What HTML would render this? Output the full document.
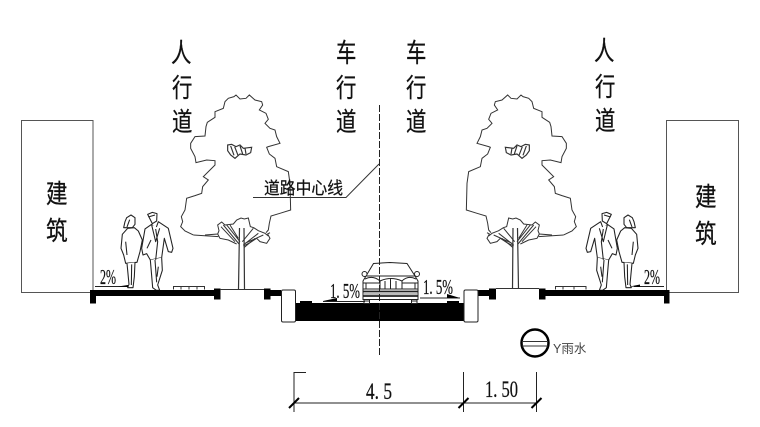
<!DOCTYPE html>
<html lang="zh">
<head>
<meta charset="utf-8">
<style>
html,body{margin:0;padding:0;background:#fff}
svg{display:block}
.cjk{font-family:"Liberation Serif","Noto Sans CJK SC",sans-serif;fill:#111;stroke:#111;stroke-width:.25}
.num{font-family:"Liberation Serif",serif;fill:#111;stroke:#111;stroke-width:.25}
</style>
</head>
<body>
<svg xmlns="http://www.w3.org/2000/svg" width="760" height="427" viewBox="0 0 760 427">
<rect width="760" height="427" fill="#fff"/>
<defs>
<g id="tree" fill="none" stroke="#333">
<g transform="translate(160 30) scale(.3333)" stroke-width="3">
<path fill="#fff" d="M100 615 L75 603 L62 590 L68 575 L64 560 L75 540 L80 505 L105 497 L125 490 L128 470 L145 450 L130 440 L150 420 L165 405 L165 392 L140 390 L108 398 L105 380 L92 355 L92 340 L105 320 L135 318 L138 290 L142 277 L165 262 L165 245 L190 235 L195 215 L205 205 L222 200 L228 195 L240 207 L258 205 L268 195 L285 210 L305 215 L308 225 L298 240 L318 250 L325 268 L315 280 L330 295 L345 300 L350 320 L360 340 L325 350 L320 352 L328 372 L345 385 L350 410 L385 425 L390 460 L392 540 L360 550 L333 558 L328 580 L325 600 L318 608"/>
<path d="M100 615 L175 620"/>
<path stroke-width="3.500" d="M203 345 L215 343 L228 350 L240 345 L250 355 L275 352 L272 368 L258 375 L240 372 L225 385 L212 375 L203 362 Z M212 348 L222 376 M224 350 L234 376 M240 348 L248 372 M255 354 L258 372"/>
</g>
<path stroke-width="1.200" d="M238.500 289 L239.500 228 M244.500 289 L244 228"/>
<g transform="translate(205 210) scale(.3333)" stroke-width="3">
<path d="M0 75 L38 72 L42 62 L38 45 L50 36 L60 45 L85 42 L95 30 L108 24 L118 27 L130 24 L136 50 L146 53 L160 62 L180 70 L190 78"/>
<path d="M38 72 L45 85 L70 90 L95 102 M115 108 L135 98 L155 85 L165 95 L185 100 L195 85 L188 72 L195 68"/>
<path d="M55 45 L102 102 M65 45 L105 95 M75 45 L100 85 M48 50 L90 95"/>
<path d="M112 95 L145 55 M115 105 L160 70 M120 100 L175 75 M118 112 L150 85"/>
</g>
</g>
<g id="people" fill="#fff" stroke="#222" stroke-width="3.200" stroke-linejoin="round">
<g transform="translate(115 205) scale(.3333)">
<path d="M26 68 L30 50 L35 38 L48 30 L60 38 L60 58 L52 68 L40 68 Z"/>
<path d="M44 44 L36 66"/>
<path d="M38 70 L22 88 L18 130 L26 150 L32 175 L66 172 L75 140 L82 105 L70 78 L58 68 Z"/>
<path d="M36 175 L42 238 L38 248 L54 248 L58 215 L60 172"/>
<path d="M32 110 L36 150 M50 178 L49 240"/>
<path d="M98 28 L112 22 L126 26 L125 48 L112 56 L105 42 Z"/>
<path d="M100 36 L120 30"/>
<path d="M110 58 L90 72 L80 130 L84 150 L95 146 L106 165 L140 158 L148 100 L160 140 L170 142 L174 130 L160 70 L130 50 L122 72 Z"/>
<path d="M106 165 L110 212 L113 248 L124 256 L134 256 L128 240 L142 196 L140 158"/>
<path d="M122 72 L128 110 L122 165 M110 60 L122 110 L134 70 M120 165 L125 232 M108 105 L96 130 M130 185 L126 215"/>
</g>
</g>
</defs>

<!-- buildings -->
<rect x="21.500" y="120.500" width="71.500" height="172" fill="#fff" stroke="#555" stroke-width="1"/>
<rect x="666.500" y="120.500" width="72" height="172" fill="#fff" stroke="#555" stroke-width="1"/>

<!-- trees -->
<use href="#tree"/>
<use href="#tree" transform="matrix(-1 0 0 1 757 0)"/>

<!-- people -->
<use href="#people"/>
<use href="#people" transform="matrix(-1 0 0 1 759 0)"/>

<!-- ground -->
<g fill="#000">
<rect x="90" y="290" width="130" height="6"/>
<rect x="90" y="290" width="6" height="13.500"/>
<rect x="214" y="288.500" width="6.500" height="11"/>
<rect x="264" y="288.500" width="6.500" height="11"/>
<rect x="270" y="290" width="11" height="6"/>
<rect x="296" y="303" width="168" height="18"/>
<rect x="300" y="301" width="12" height="3"/>
<rect x="447" y="301" width="12" height="3"/>
<rect x="478" y="290" width="12" height="6"/>
<rect x="489" y="288.500" width="7" height="11"/>
<rect x="539" y="288.500" width="6.500" height="11"/>
<rect x="545" y="290" width="124" height="6"/>
<rect x="664" y="290" width="5.500" height="13.500"/>
</g>
<g fill="none" stroke="#333" stroke-width="1">
<path d="M220 289.500 H264 M496 288.500 H539"/>
<rect x="281.500" y="290" width="14" height="32" rx="1.500" fill="#fff" stroke="#222"/>
<rect x="464" y="290" width="14" height="32" rx="1.500" fill="#fff" stroke="#222"/>
<path d="M173.500 289.500 V286.500 H204.500 V289.500 M181 286.500 V289.500 M189 286.500 V289.500 M197 286.500 V289.500"/>
<path d="M555.500 289.500 V286.500 H586 V289.500 M563 286.500 V289.500 M574 286.500 V289.500"/>
</g>

<!-- car -->
<g fill="none" stroke="#222" stroke-width="1">
<path fill="#fff" d="M366 276 L373.500 263.500 L390 262.500 L407 263.500 L415 276 L418 281 L418 299.500 L363 299.500 L363 281 Z"/>
<circle cx="364.500" cy="274" r="2.500" fill="#fff"/><circle cx="417" cy="274" r="2.500" fill="#fff"/>
<path d="M366 276 H415 M363 283 H380 M402 283 H418 M363 289 H418 M366 283 V289 M380 281 V289 M402 281 V289 M415 283 V289"/>
<path d="M365 279 Q373 275 380 281 M416 279 Q408 275 402 281 M380 281 Q391 276 402 281 M390.500 278 V289 M385 281 V289 M396 281 V289"/>
<path d="M364 299 V303.500 H369.500 V299 M411.500 299 V303.500 H417 V299 M364 301 H369.500 M411.500 301 H417"/>
<path stroke-width="1.800" d="M363 291.500 H418 M363 296 H418"/>
<path stroke="#777" d="M363 294 H418"/>
</g>

<!-- centre line -->
<path d="M379.500 105 V357" fill="none" stroke="#222" stroke-width="1" stroke-dasharray="7 2"/>

<!-- leader -->
<path d="M253 197.500 H346 L379 164" fill="none" stroke="#333" stroke-width="1"/>
<text class="cjk" x="264" y="194" font-size="17" textLength="79" lengthAdjust="spacingAndGlyphs">道路中心线</text>

<!-- vertical labels -->
<g class="cjk" font-size="24">
<text transform="translate(171 62) scale(.85 1.1)">人</text>
<text transform="translate(172 97) scale(.85 1.1)">行</text>
<text transform="translate(172 131) scale(.85 1.1)">道</text>
<text transform="translate(336 62) scale(.85 1.1)">车</text>
<text transform="translate(336 97) scale(.85 1.1)">行</text>
<text transform="translate(336 131) scale(.85 1.1)">道</text>
<text transform="translate(406 62) scale(.85 1.1)">车</text>
<text transform="translate(406 97) scale(.85 1.1)">行</text>
<text transform="translate(406 131) scale(.85 1.1)">道</text>
<text transform="translate(594 60) scale(.85 1.1)">人</text>
<text transform="translate(595 96) scale(.85 1.1)">行</text>
<text transform="translate(595 130) scale(.85 1.1)">道</text>
<text transform="translate(46 203) scale(.9 1.1)">建</text>
<text transform="translate(46 240) scale(.9 1.1)">筑</text>
<text transform="translate(695 206) scale(.9 1.1)">建</text>
<text transform="translate(695 243) scale(.9 1.1)">筑</text>
</g>

<!-- slopes -->
<g fill="none" stroke="#222" stroke-width="1">
<path d="M95 286.500 H128 M634 286.500 H664 M323 301.500 H365 M420 298 H460"/>
</g>
<g fill="#000">
<path d="M118 286.500 L128 285 L128 287 Z"/>
<path d="M630 286.500 L640 284.500 L640 287 Z"/>
<path d="M323 301 L337 298 L337 301 Z"/>
<path d="M447 294 L460 298 L447 298 Z"/>
</g>
<g class="num" font-size="21">
<text x="100" y="284" textLength="16" lengthAdjust="spacingAndGlyphs">2%</text>
<text x="644" y="284" textLength="16" lengthAdjust="spacingAndGlyphs">2%</text>
<text x="330" y="298" textLength="30" lengthAdjust="spacingAndGlyphs">1. 5%</text>
<text x="423" y="294" textLength="30" lengthAdjust="spacingAndGlyphs">1. 5%</text>
</g>

<!-- drain -->
<circle cx="535" cy="343" r="13.500" fill="#fff" stroke="#000" stroke-width="2.500"/>
<path d="M522 341.500 H548 M522 346 H548" stroke="#333" stroke-width="1" fill="none"/>
<text x="553" y="353" font-size="12.500" fill="#444" font-family="'Liberation Sans','Noto Sans CJK SC',sans-serif">Y雨水</text>

<!-- dimensions -->
<g fill="none" stroke="#222" stroke-width="1">
<path d="M294 412 V372.500 H306 M463.500 372 V412 M536.500 372 V412 M294 403 H536.500"/>
<path stroke="#000" stroke-width="2" d="M289 408 L299 398 M458.500 408 L468.500 398 M531.500 408 L541.500 398"/>
</g>
<g class="num" font-size="23">
<text x="366" y="399" textLength="26" lengthAdjust="spacingAndGlyphs">4. 5</text>
<text x="485" y="397" textLength="33" lengthAdjust="spacingAndGlyphs">1. 50</text>
</g>
</svg>
</body>
</html>
